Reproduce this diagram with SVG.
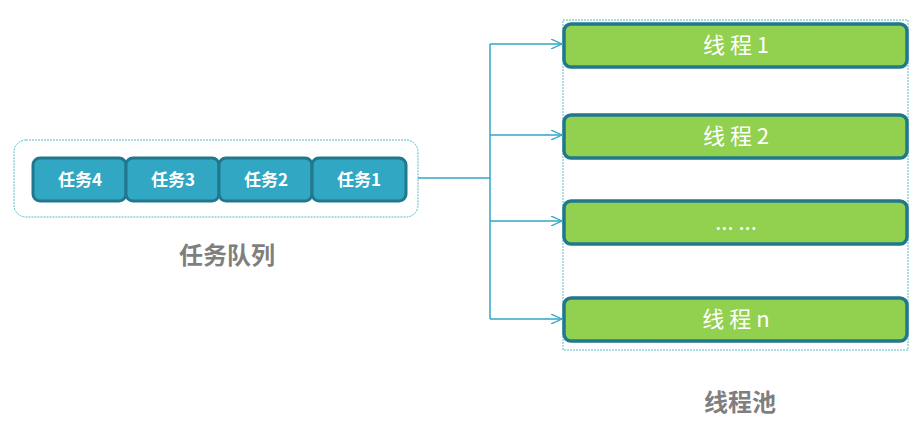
<svg xmlns="http://www.w3.org/2000/svg" width="921" height="422" viewBox="0 0 921 422">
<defs>
<style>
.task{fill:#31a7c4;stroke:#21788c;stroke-width:3}
.thr{fill:#92d050;stroke:#21788c;stroke-width:3.5}
.tt{font-family:"Noto Sans CJK SC","Liberation Sans",sans-serif;font-weight:bold;font-size:17px;fill:#fff;text-anchor:middle}
.th{font-family:"Noto Sans CJK SC","Liberation Sans",sans-serif;font-size:22px;fill:#fff;text-anchor:middle}
.lbl{font-family:"Noto Sans CJK SC",sans-serif;font-size:24px;fill:#7f7f7f;font-weight:bold;text-anchor:middle}
.ln{stroke:#31a7c4;stroke-width:1.5;fill:none}
</style>
<marker id="a" markerWidth="12" markerHeight="10" refX="11" refY="5" orient="auto" markerUnits="userSpaceOnUse"><path d="M0,0 L11,5 L0,10" fill="none" stroke="#31a7c4" stroke-width="1.3"/></marker>
</defs>
<g id="queue">
<rect x="14" y="140" width="404" height="77" rx="12" fill="none" stroke="#31a7c4" stroke-width="0.8" stroke-dasharray="2,1"/>
<rect class="task" x="33" y="158" width="93" height="43" rx="7"/>
<rect class="task" x="126" y="158" width="93" height="43" rx="7"/>
<rect class="task" x="219" y="158" width="93" height="43" rx="7"/>
<rect class="task" x="312" y="158" width="94" height="43" rx="7"/>
<text class="tt" x="80" y="186">任务4</text>
<text class="tt" x="173" y="186">任务3</text>
<text class="tt" x="266" y="186">任务2</text>
<text class="tt" x="359" y="186">任务1</text>
<text class="lbl" x="227" y="264">任务队列</text>
</g>
<g id="pool">
<rect x="563" y="20" width="345" height="330" fill="none" stroke="#31a7c4" stroke-width="0.8" stroke-dasharray="2,1"/>
<text class="lbl" x="740" y="411">线程池</text>
</g>
<g id="t1"><rect class="thr" x="564" y="24" width="343" height="43" rx="7"/><text class="th" x="736" y="53">线 程 1</text></g>
<g id="t2"><rect class="thr" x="564" y="115" width="343" height="43" rx="7"/><text class="th" x="736" y="144">线 程 2</text></g>
<g id="t3"><rect class="thr" x="564" y="201" width="343" height="43" rx="7"/><text class="th" x="736" y="230">... ...</text></g>
<g id="tn"><rect class="thr" x="564" y="298" width="343" height="43" rx="7"/><text class="th" x="736" y="327">线 程 n</text></g>
<g id="connectors">
<path class="ln" d="M418,178 H490"/>
<path class="ln" d="M490,44 V319"/>
<path class="ln" d="M490,44 H562" marker-end="url(#a)"/>
<path class="ln" d="M490,135 H562" marker-end="url(#a)"/>
<path class="ln" d="M490,221 H562" marker-end="url(#a)"/>
<path class="ln" d="M490,319 H562" marker-end="url(#a)"/>
</g>
</svg>
